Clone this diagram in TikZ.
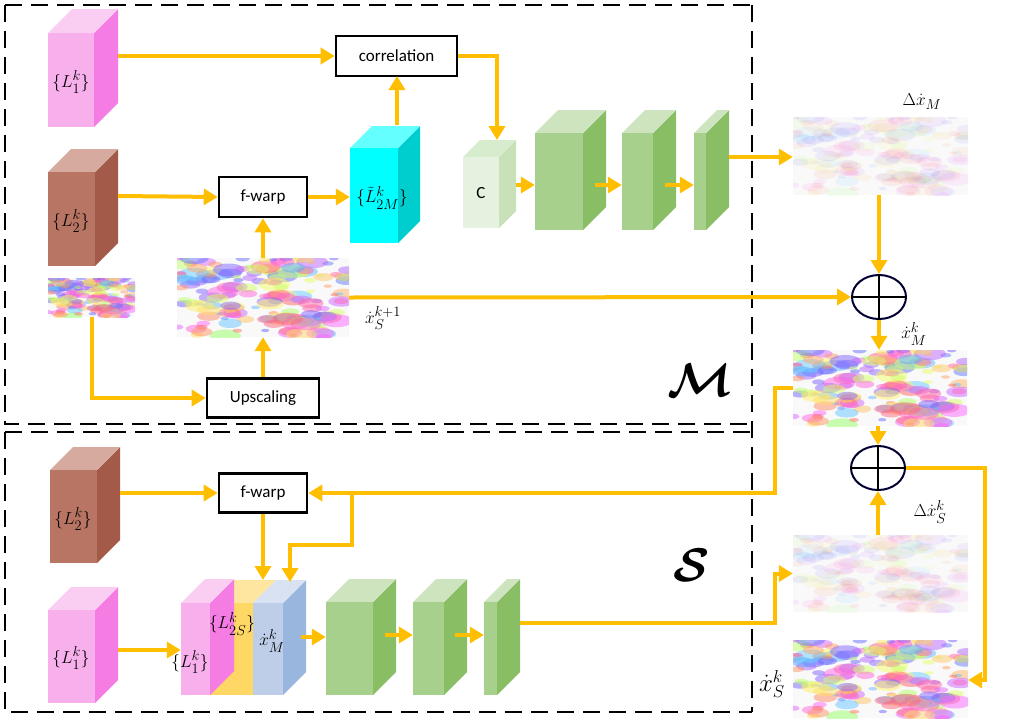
\documentclass[tikz,border=0pt]{standalone}
\usepackage{fontspec}
\usepackage{amsmath,amssymb}
\newfontfamily\boxfont{Carlito}
\usetikzlibrary{arrows.meta,shapes.geometric}
\definecolor{arr}{RGB}{255,190,0}
\definecolor{pkF}{RGB}{248,176,236}\definecolor{pkS}{RGB}{245,124,226}\definecolor{pkT}{RGB}{250,206,242}
\definecolor{brF}{RGB}{185,117,100}\definecolor{brS}{RGB}{163,90,72}\definecolor{brT}{RGB}{215,170,160}
\definecolor{cyF}{RGB}{0,255,255}\definecolor{cyS}{RGB}{0,205,205}\definecolor{cyT}{RGB}{100,255,255}
\definecolor{lgF}{RGB}{230,242,224}\definecolor{lgS}{RGB}{200,225,185}\definecolor{lgT}{RGB}{215,235,205}
\definecolor{gF}{RGB}{168,208,141}\definecolor{gS}{RGB}{137,190,100}\definecolor{gT}{RGB}{205,228,190}
\definecolor{yF}{RGB}{255,215,100}\definecolor{yT}{RGB}{255,230,160}
\definecolor{bF}{RGB}{190,206,232}\definecolor{bS}{RGB}{152,182,222}\definecolor{bT}{RGB}{216,226,242}
\newcommand\cub[9]{%
  \fill[#8] (#4,#3)--(#4+#6,#3-#6)--(#4+#6,#5-#6)--(#4,#5)--cycle;
  \fill[#9] (#2,#3)--(#2+#6,#3-#6)--(#4+#6,#3-#6)--(#4,#3)--cycle;
  \fill[#7] (#2,#3) rectangle (#4,#5);
  \node[inner sep=0,minimum width={#4-#2},minimum height={#5-#3}] (#1) at ({(#2+#4)/2},{(#3+#5)/2}) {};}
\newcommand\flowimg[6]{%
  \node[inner sep=0,minimum width={#4-#2},minimum height={#5-#3}] (#1) at ({(#2+#4)/2},{(#3+#5)/2}) {};
  \begin{scope}
  \clip (#2,#3) rectangle (#4,#5);
  \fill[white!95!gray] (#2,#3) rectangle (#4,#5);
  \pgfmathsetseed{11}
  \foreach \i in {1,...,160}{%
    \pgfmathsetmacro\px{#2+rnd*(#4-#2)}%
    \pgfmathsetmacro\py{#3+rnd*(#5-#3)}%
    \pgfmathsetmacro\hu{mod(0.55+rnd*0.75,1)}%
    \pgfmathsetmacro\rx{4+rnd*(#4-#2)/14}%
    \definecolor{tmp}{hsb}{\hu,0.6,1}%
    \fill[tmp,opacity=#6] (\px,\py) ellipse ({\rx} and {\rx/2.5});}
  \end{scope}}
\tikzset{
  ar/.style={draw=arr,line width=4pt,-{Triangle[length=14pt,width=16pt]}},
  opbox/.style={draw,line width=2.6pt,inner sep=0,font=\boxfont\fontsize{17}{19}\selectfont},
  dbox/.style={line width=2.2pt,dash pattern=on 17pt off 9pt},
  lab/.style={font=\fontsize{19}{21}\selectfont,inner sep=0},
  plus/.style={draw=black!80!blue,line width=2pt,ellipse,minimum width=54pt,minimum height=44pt}
}
\begin{document}
\begin{tikzpicture}[x=1pt,y=-1pt]
\useasboundingbox (0,0) rectangle (1025,723);
% dashed boxes
\draw[dbox] (5,5) -- (752,5);
\draw[dbox] (5,5) -- (5,424) -- (752,424);
\draw[dbox] (5,432) -- (752,432);
\draw[dbox] (5,432) -- (5,712) -- (752,712);
\draw[dbox] (752,5) -- (752,712);
\node[inner sep=0] (Mlab) at (700,380) {\scalebox{1.9}{\fontsize{36}{36}\selectfont$\boldsymbol{\mathcal{M}}$}};
\node[inner sep=0] (Slab) at (692,565) {\scalebox{1.9}{\fontsize{36}{36}\selectfont$\boldsymbol{\mathcal{S}}$}};
% top module
\cub{Lone}{48}{33}{94}{127}{24}{pkF}{pkS}{pkT}
\node[lab] at (71,82) {$\{L_1^k\}$};
\cub{Ltwo}{48}{172}{95}{266}{23}{brF}{brS}{brT}
\node[lab] at (71,221) {$\{L_2^k\}$};
\cub{LtM}{350}{148}{398}{243}{22}{cyF}{cyS}{cyT}
\node[lab] at (382,198) {$\{\tilde L_{2M}^k\}$};
\cub{Cb}{463}{157}{499}{228}{17}{lgF}{lgS}{lgT}
\node[font=\boxfont\fontsize{17}{19}\selectfont] at (481,193) {C};
\cub{Ga}{535}{133}{583}{230}{23}{gF}{gS}{gT}
\cub{Gb}{622}{133}{653}{230}{23}{gF}{gS}{gT}
\cub{Gc}{694}{133}{706}{230}{23}{gF}{gS}{gT}
\flowimg{fsmall}{48}{278}{135}{317}{0.5}
\flowimg{fbig}{177}{258}{349}{337}{0.5}
\node[lab] at (383,318) {$\dot x_S^{k+1}$};
\node[opbox,minimum width=121pt,minimum height=40pt] (corr) at (396.5,56) {correlation};
\node[opbox,minimum width=88pt,minimum height=40pt] (fw1) at (263,197) {f-warp};
\node[opbox,minimum width=112pt,minimum height=39pt] (ups) at (263,398) {Upscaling};
% right column
\flowimg{dM}{793}{117}{968}{195}{0.1}
\node[lab] at (922,102) {$\Delta\dot x_M$};
\node[plus] (p1) at (879,297) {};
\draw[line width=2pt] (p1.north)--(p1.south) (p1.west)--(p1.east);
\node[lab] at (914,334) {$\dot x_M^k$};
\flowimg{xM}{793}{350}{967}{426}{0.5}
\node[plus] (p2) at (878,468) {};
\draw[line width=2pt] (p2.north)--(p2.south) (p2.west)--(p2.east);
\node[lab] at (930,512) {$\Delta\dot x_S^k$};
\flowimg{dS}{793}{535}{968}{612}{0.1}
\flowimg{xS}{793}{640}{968}{718}{0.5}
\node[font=\fontsize{26}{28}\selectfont,inner sep=0] at (772,684) {$\dot x_S^k$};
% bottom module
\cub{Ltwob}{50}{470}{97}{563}{23}{brF}{brS}{brT}
\node[lab] at (73,519) {$\{L_2^k\}$};
\cub{Loneb}{48}{610}{95}{703}{23}{pkF}{pkS}{pkT}
\node[lab] at (71,658) {$\{L_1^k\}$};
\node[opbox,minimum width=88pt,minimum height=39pt] (fw2) at (263,493) {f-warp};
\cub{Yb}{210}{603}{253}{695}{23}{yF}{yF}{yT}
\cub{Bb}{253}{603}{283}{695}{23}{bF}{bS}{bT}
\cub{Pb}{181}{603}{210}{695}{24}{pkF}{pkS}{pkT}
\node[lab] at (232,624) {$\{L_{2S}^k\}$};
\node[lab] at (272,641) {$\dot x_M^k$};
\node[lab] at (190,662) {$\{L_1^k\}$};
\cub{Gd}{326}{602}{373}{695}{23}{gF}{gS}{gT}
\cub{Ge}{413}{602}{444}{695}{23}{gF}{gS}{gT}
\cub{Gf}{484}{602}{497}{695}{23}{gF}{gS}{gT}
% connectors top
\draw[ar] (118,56) -- (corr.west);
\draw[ar] (corr.east) -| (497,140);
\draw[ar] (397,125) -- (397,76);
\draw[ar] (118,196) -- (fw1.west);
\draw[ar] (fw1.east) -- (LtM.west|-fw1.east);
\draw[ar] (fbig.north-|fw1.south) -- (fw1.south);
\draw[ar] (ups.north) -- (fbig.south-|ups.north);
\draw[ar] (fsmall.south) |- (ups.west);
\draw[ar] (516,185) -- (Ga.west|-0,185);
\draw[ar] (595,185) -- (Gb.west|-0,185);
\draw[ar] (665,185) -- (Gc.west|-0,185);
\draw[ar] (729,157) -- (dM.west|-0,157);
\draw[ar] (dM.south-|p1.north) -- (p1.north);
\draw[ar] (fbig.east) -- (p1.west);
\draw[ar] (p1.south) -- (xM.north-|p1.south);
\draw[ar] (xM.south-|p2.north) -- (p2.north);
\draw[ar] (dS.north-|p2.south) -- (p2.south);
\draw[ar] (p2.east) -- (985,468) |- (xS.east|-0,680);
% connectors bottom
\draw[ar] (xM.west) -- (775,388) |- (fw2.east);
\draw[ar] (352,493) -- (352,545) -- (290,545) -- (290,582);
\draw[ar] (120,493) -- (fw2.west);
\draw[ar] (fw2.south) -- (263,580);
\draw[ar] (118,650) -- (Pb.west|-0,650);
\draw[ar] (301,637) -- (Gd.west|-0,637);
\draw[ar] (385,635) -- (Ge.west|-0,635);
\draw[ar] (455,635) -- (Gf.west|-0,635);
\draw[ar] (520,623) -- (775,623) |- (dS.west);
\end{tikzpicture}
\end{document}
